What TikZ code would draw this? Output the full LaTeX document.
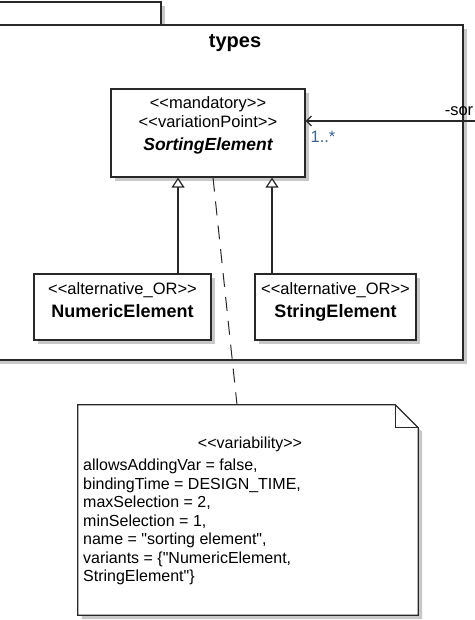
\documentclass[tikz,border=0pt]{standalone}
\usepackage{fontspec}
\usepackage{tikz}
\usetikzlibrary{arrows.meta, positioning, calc}
\newfontfamily\umlfont{Liberation Sans}
\definecolor{umlline}{RGB}{40, 40, 40}
\definecolor{umlshade}{RGB}{200, 200, 200}
\definecolor{multcol}{RGB}{60, 100, 150}
\newcommand{\stereo}[1]{\char"3C\char"3C#1\char"3E\char"3E}

\begin{document}
\begin{tikzpicture}[x=1pt, y=-1pt,
    umlbox/.style={rectangle, draw=umlline, fill=white, line width=1.2pt,
                   preaction={draw=none, fill=umlshade, transform canvas={shift={(4pt,-4pt)}}}},
    umltext/.style={inner sep=0pt, align=center, font=\umlfont\fontsize{16.5}{19}\selectfont},
    notetext/.style={inner sep=0pt, font=\umlfont\fontsize{16}{18.5}\selectfont},
    gen/.style={draw=umlline, line width=1.2pt, -{Triangle[open, length=10pt, width=13pt, fill=white]}},
    assoc/.style={draw=umlline, line width=1.2pt, -{Straight Barb[length=5pt, width=10pt]}},
    anchorline/.style={draw=umlline, line width=1pt, dash pattern=on 14pt off 10pt}]
    \useasboundingbox (0,0) rectangle (474,620);

    % Package
    \node[umlbox, minimum width=166pt, minimum height=23pt] (pkgtab) at (78,13.5) {};
    \node[umlbox, minimum width=468pt, minimum height=335pt] (pkg) at (229,192.5) {};
    \node[umltext, font=\umlfont\bfseries\fontsize{20}{23}\selectfont] (pkgname) at (235,43) {types};

    % Classes
    \node[umlbox, minimum width=194pt, minimum height=88pt] (sort) at (208,133) {};
    \node[umltext, anchor=north] (sortname) at ([yshift=-8pt]sort.north)
        {\stereo{mandatory}\\\stereo{variationPoint}\\[4pt]{\bfseries\itshape\fontsize{17.5}{19}\selectfont SortingElement}};
    \node[umlbox, minimum width=177pt, minimum height=66pt] (num) at (122.5,307) {};
    \node[umltext, anchor=north] (numname) at ([yshift=-9pt]num.north)
        {\stereo{alternative\_OR}\\[4pt]{\bfseries\fontsize{18}{19}\selectfont NumericElement}};
    \node[umlbox, minimum width=161pt, minimum height=66pt] (str) at (335.5,307) {};
    \node[umltext, anchor=north] (strname) at ([yshift=-9pt]str.north)
        {\stereo{alternative\_OR}\\[4pt]{\bfseries\fontsize{18}{19}\selectfont StringElement}};

    % Generalizations
    \draw[gen] ([xshift=55.5pt]num.north) -- ([xshift=55.5pt]num.north |- sort.south);
    \draw[gen] ([xshift=-63.5pt]str.north) -- ([xshift=-63.5pt]str.north |- sort.south);

    % Association from outside
    \coordinate (sorend) at (480,121);
    \draw[assoc] (sorend) -- (sort.east |- sorend);
    \node[umltext] (sorlabel) at (459,111) {-sor};
    \node[umltext, text=multcol] (mult) at (323,137) {1..*};

    % Note
    \node[minimum width=340pt, minimum height=210pt, inner sep=0pt] (note) at (248,510) {};
    \fill[umlshade] ([shift={(4pt,-4pt)}]note.north west) -- ([shift={(-19pt,-4pt)}]note.north east)
        -- ([shift={(4pt,-27pt)}]note.north east) -- ([shift={(4pt,-4pt)}]note.south east)
        -- ([shift={(4pt,-4pt)}]note.south west) -- cycle;
    \draw[umlline, fill=white, line width=1.2pt] (note.north west) -- ([xshift=-23pt]note.north east)
        -- ([yshift=-23pt]note.north east) -- (note.south east) -- (note.south west) -- cycle;
    \draw[umlline, line width=1.2pt] ([xshift=-23pt]note.north east) |- ([yshift=-23pt]note.north east);
    \node[notetext] (varhead) at (250,444) {\stereo{variability}};
    \node[notetext, align=left, anchor=north west] (varbody) at (83,459)
        {allowsAddingVar = false,\\bindingTime = DESIGN\_TIME,\\maxSelection = 2,\\minSelection = 1,\\
         name = "sorting element",\\variants = \{"NumericElement,\\StringElement"\}};

    % Anchor line
    \draw[anchorline] ([xshift=5pt]sort.south) -- ([xshift=-11pt]note.north);
\end{tikzpicture}
\end{document}
